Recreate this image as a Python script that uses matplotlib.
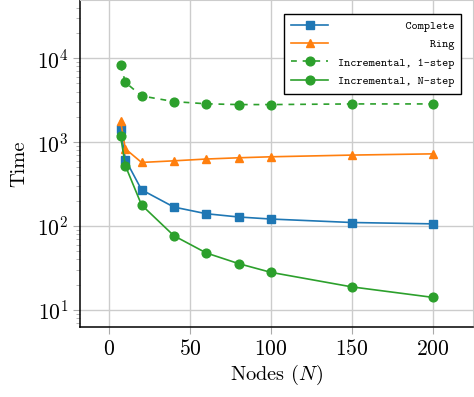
import matplotlib
matplotlib.use("Agg")
import matplotlib.pyplot as plt

nodes = [7, 10, 20, 40, 60, 80, 100, 150, 200]
complete = [1440, 620, 270, 168, 140, 128, 121, 110, 106]
ring = [1790, 830, 572, 598, 628, 650, 668, 700, 724]
inc_1step = [8300, 5150, 3550, 3040, 2860, 2800, 2800, 2850, 2850]
inc_nstep = [1190, 522, 178, 76.5, 47.7, 35.6, 28, 18.8, 14.1]
labels = ["Complete", "Ring", "Incremental, 1-step", "Incremental, N-step"]
xticks = [0, 50, 100, 150, 200]

plt.rcParams['font.family'] = 'serif'
plt.rcParams['font.serif'] = ['cmr10', 'DejaVu Serif']
plt.rcParams['mathtext.fontset'] = 'cm'
plt.rcParams['axes.formatter.use_mathtext'] = True
plt.rcParams['axes.unicode_minus'] = False

fig = plt.figure(figsize=(4.74, 3.97), dpi=100)
ax = fig.add_axes([0.169, 0.1756, 0.829, 0.8244])

blue, orange, green = '#1f77b4', '#ff7f0e', '#2ca02c'
width = max(len(l) for l in labels)
pad = [l.rjust(width) for l in labels]

ax.plot(nodes, complete, '-', color=blue, marker='s', ms=6.3, lw=1.2, label=pad[0], zorder=3)
ax.plot(nodes, ring, '-', color=orange, marker='^', ms=6.3, lw=1.2, label=pad[1], zorder=3)
ax.plot(nodes, inc_1step, '--', color=green, marker='o', ms=6.3, lw=1.2, dashes=(3.5, 3.5), label=pad[2], zorder=3)
ax.plot(nodes, inc_nstep, '-', color=green, marker='o', ms=6.3, lw=1.2, label=pad[3], zorder=3)

ax.set_yscale('log')
ax.set_xlim(-18, 225)
ax.set_ylim(6.2, 49400)
ax.set_xticks(xticks)
ax.grid(True, which='major', color='#cccccc', lw=1)
ax.set_axisbelow(True)
ax.tick_params(which='both', color='#aaaaaa', labelsize=15.5)
ax.tick_params(which='major', length=5)
ax.tick_params(which='minor', length=3)
for s in ['top', 'right']:
    ax.spines[s].set_color('#cccccc')
for s in ['left', 'bottom']:
    ax.spines[s].set_color('black')
    ax.spines[s].set_linewidth(1.1)

ax.set_xlabel('Nodes ($N$)', fontsize=14.7, labelpad=3)
ax.set_ylabel('Time', fontsize=14.7, labelpad=6)

leg = ax.legend(loc='upper right', prop={'family': 'cmtt10', 'size': 8.4},
                frameon=True, fancybox=False, edgecolor='black', framealpha=1,
                handlelength=3.2, borderpad=0.6, labelspacing=0.6,
                bbox_to_anchor=(0.985, 0.975))
leg.get_frame().set_linewidth(1.0)

fig.savefig('out.png', dpi=100)
